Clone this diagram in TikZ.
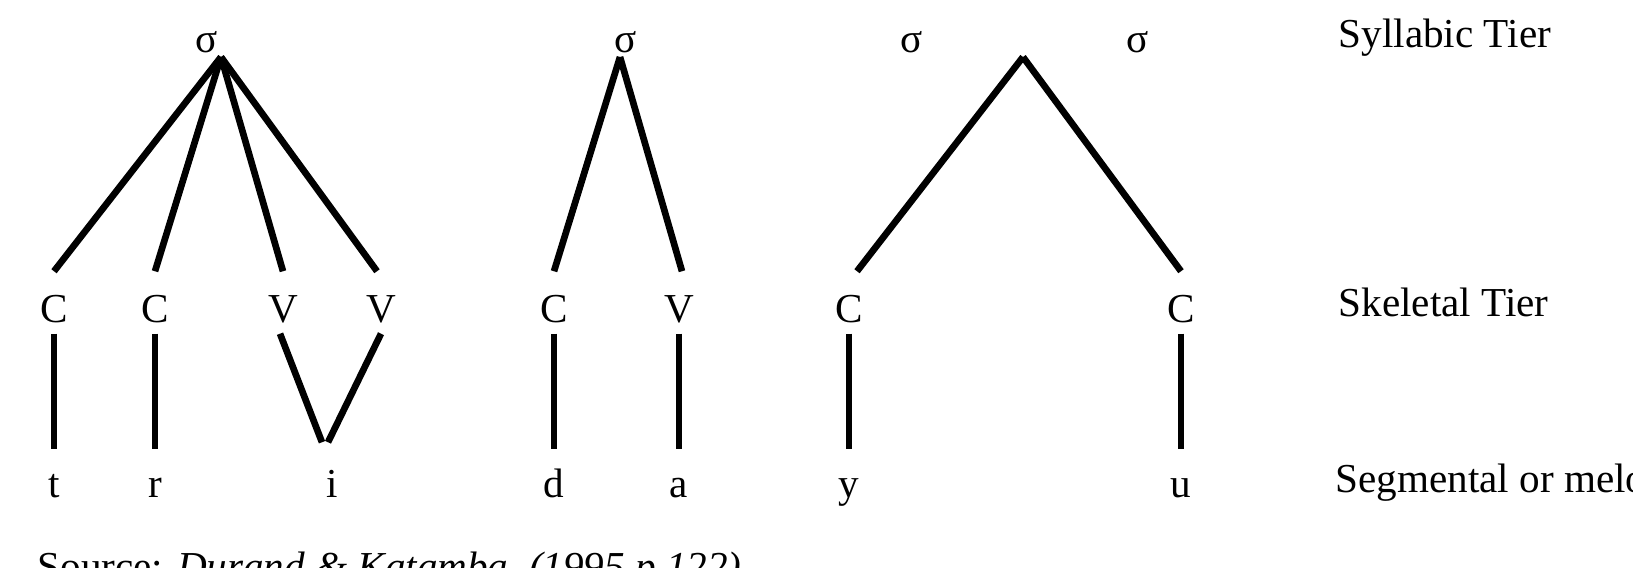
\documentclass[tikz,border=0pt]{standalone}
\usepackage{fontspec}
\setmainfont{Liberation Serif}

\begin{document}
\begin{tikzpicture}[x=0.01cm, y=-0.01cm,
		tier/.style={font=\fontsize{11.7pt}{14pt}\selectfont, inner sep=0pt},
		sigma/.style={tier, anchor=base},
		skel/.style={tier, anchor=base, text height=0.51cm, text depth=0.1cm},
		seg/.style={tier, anchor=base, text height=0.48cm, text depth=0pt},
		tiername/.style={tier, anchor=base west},
		assoc/.style={line width=1.9pt}]
			\useasboundingbox (0,0) rectangle (1633,568);
			\clip (0,0) rectangle (1633,568);
			\node[sigma] (sig1) at (207,53) {σ};
			\node[sigma] (sig2) at (626,53) {σ};
			\node[sigma] (sig3) at (912,53) {σ};
			\node[sigma] (sig4) at (1138,53) {σ};
			\coordinate (top1) at (221,57);
			\coordinate (top2) at (620,57);
			\coordinate (top3) at (1023,57);
			\node[skel] (c1) at (54,323) {C};
			\node[skel] (c2) at (155,323) {C};
			\node[skel] (v1) at (283,323) {V};
			\node[skel] (v2) at (381,323) {V};
			\node[skel] (c3) at (554,323) {C};
			\node[skel] (v3) at (679,323) {V};
			\node[skel] (c4) at (849,323) {C};
			\node[skel] (c5) at (1181,323) {C};
			\node[seg] (t) at (54,498) {t};
			\node[seg] (r) at (155,498) {r};
			\node[seg] (i) at (332,498) {i};
			\node[seg] (d) at (554,498) {d};
			\node[seg] (a) at (679,498) {a};
			\node[seg] (y) at (849,498) {y};
			\node[seg] (u) at (1181,498) {u};
			\node[tiername] (syl) at (1338,48) {Syllabic Tier};
			\node[tiername] (skl) at (1338,317) {Skeletal Tier};
			\node[tiername] (sgm) at (1335,493) {Segmental or melodic Tier};
			\node[tiername] (src) at (37,581) {Source: \textit{Durand \& Katamba, (1995 p.122)}};
			\draw[assoc] (top1) -- (c1.north);
			\draw[assoc] (top1) -- (c2.north);
			\draw[assoc] (top1) -- (v1.north);
			\draw[assoc] (top1) -- ([xshift=-0.04cm]v2.north);
			\draw[assoc] (c1.south) -- (t.north);
			\draw[assoc] (c2.south) -- (r.north);
			\draw[assoc] ([xshift=-0.03cm]v1.south) -- ([xshift=-0.1cm,yshift=0.07cm]i.north);
			\draw[assoc] (v2.south) -- ([xshift=-0.04cm,yshift=0.07cm]i.north);
			\draw[assoc] (top2) -- (c3.north);
			\draw[assoc] (top2) -- ([xshift=0.03cm]v3.north);
			\draw[assoc] (c3.south) -- (d.north);
			\draw[assoc] (v3.south) -- (a.north);
			\draw[assoc] (top3) -- ([xshift=0.08cm]c4.north);
			\draw[assoc] (top3) -- (c5.north);
			\draw[assoc] (c4.south) -- (y.north);
			\draw[assoc] (c5.south) -- (u.north);
		\end{tikzpicture}
\end{document}
